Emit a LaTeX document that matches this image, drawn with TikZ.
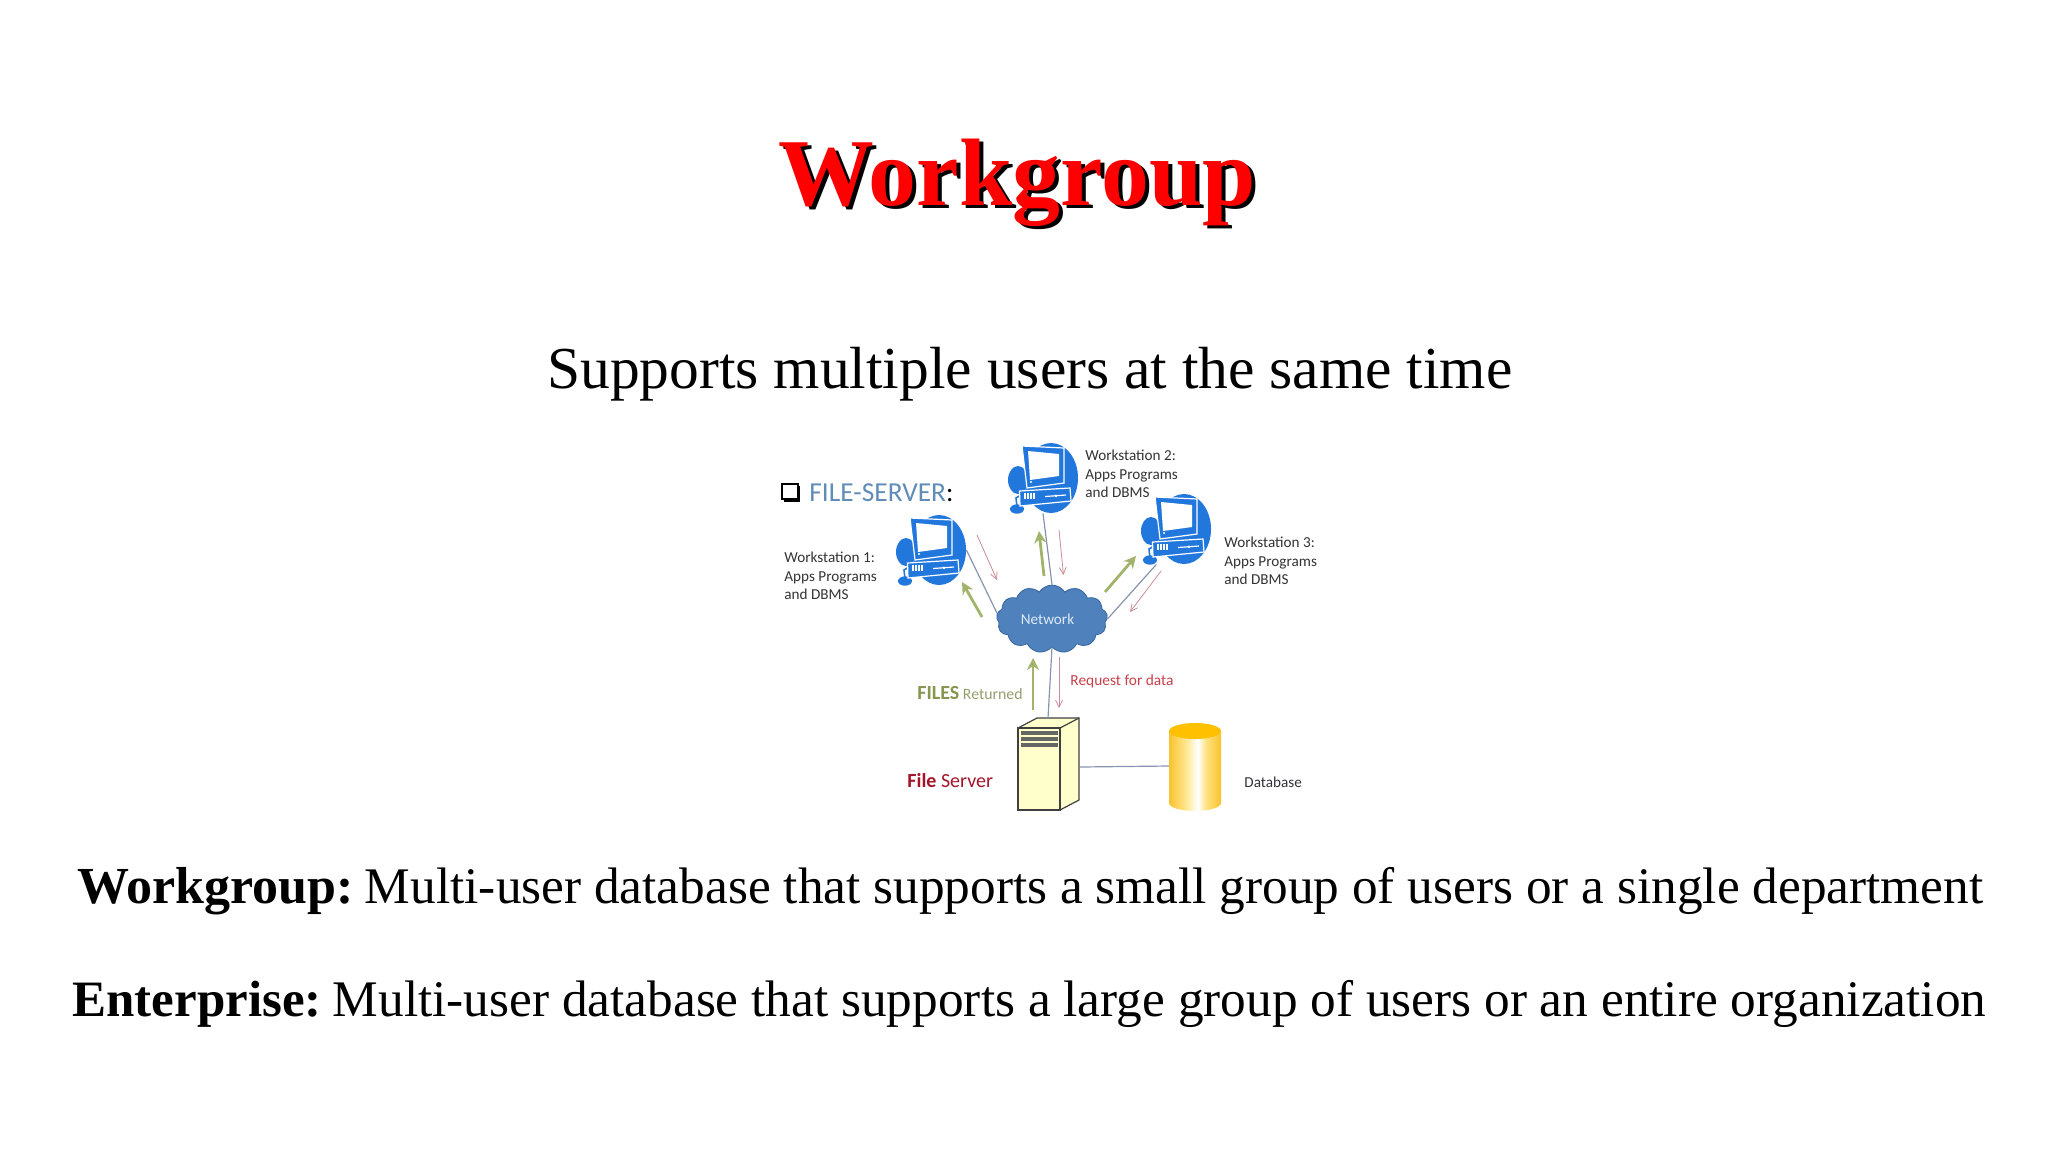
\documentclass[tikz,border=0pt]{standalone}
\usepackage{fontspec}
\setmainfont{Liberation Serif}
\newfontfamily\labelfont{Carlito}
\usetikzlibrary{arrows.meta,positioning,shapes.symbols}
\definecolor{iconblue}{HTML}{2277DD}
\definecolor{cloudblue}{HTML}{4F81BD}
\definecolor{cloudedge}{HTML}{35659E}
\definecolor{linkgray}{HTML}{8794AE}
\definecolor{returngreen}{HTML}{A2B46C}
\definecolor{requestred}{HTML}{CC8C96}
\definecolor{serverbody}{HTML}{FFFFCC}
\definecolor{dbgold}{HTML}{F9C22E}
\definecolor{dblight}{HTML}{FFE487}
\definecolor{dbtop}{HTML}{FFC000}
\pgfdeclarehorizontalshading{dbshade}{100bp}{color(0bp)=(dbgold); color(25bp)=(dbgold);
  color(40bp)=(dblight); color(53bp)=(white); color(60bp)=(dblight); color(75bp)=(dbgold); color(100bp)=(dbgold)}
\tikzset{
  bodytext/.style={anchor=base west,inner sep=0pt,font=\fontsize{#1}{#1}\selectfont},
  smalltext/.style={anchor=west,inner sep=0pt,align=left,text=black!80,
    font=\labelfont\fontsize{7.6}{9.25}\selectfont},
  link/.style={linkgray,semithick},
  filearrow/.style={returngreen,line width=1.4pt,-{Stealth[length=6pt,width=6pt]}},
  askarrow/.style={requestred,line width=0.4pt,-{Straight Barb[length=3.5pt,width=3.5pt]}},
  iconbox/.style={inner sep=0pt,minimum width=35pt,minimum height=35pt},
  workstation/.pic={
    % origin is the middle of the icon
    \begin{scope}[shift={(-35,-35)}]
      \fill[iconblue] (43,35) ellipse [x radius=27,y radius=35];
      \fill[iconblue] (10,37) ellipse [x radius=10,y radius=14];
      \fill[iconblue] (9,66) ellipse [x radius=7,y radius=4.7];
      \draw[iconblue,thick] (9,64) -- (8,55) -- (13,52);
      \draw[white,fill=iconblue,line width=0.6pt] (14,3) -- (56,5) -- (56,40) -- (19,45) -- cycle;
      \fill[white] (20,8) -- (51,11) -- (51,33) -- (22,37) -- cycle;
      \fill[white] (23,39) circle (1.2);
      \draw[white,fill=iconblue,line width=0.6pt] (11.5,48) -- (62,45) -- (63,58) -- (12,63) -- cycle;
      \foreach \X in {17,20,23,26} \draw[white,line width=0.7pt] (\X,50) -- (\X,56);
      \draw[white,line width=0.6pt] (37,53.5) -- (58,52);
      \fill[white] (48,52.8) circle (1.5);
    \end{scope}
  }
}
\begin{document}
\begin{tikzpicture}[x=0.5pt,y=-0.5pt]
  \useasboundingbox (0,0) rectangle (2048,1152);
  % heading
  \node[bodytext=47.9,font=\fontsize{47.9}{47.9}\selectfont\bfseries] (titleshadow) at (782,208) {Workgroup};
  \node[bodytext=47.9,font=\fontsize{47.9}{47.9}\selectfont\bfseries,text={rgb,255:red,255;green,0;blue,0}] (title) at (778,205) {Workgroup};
  \node[bodytext=29.75] (subtitle) at (547,388) {Supports multiple users at the same time};
  \node[bodytext=25.65] (workgroup) at (77,903) {{\fontsize{26}{26}\selectfont\textbf{Workgroup:}}\kern-3pt{} Multi-user database that supports a small group of users or a single department};
  \node[bodytext=25.65] (enterprise) at (72,1016) {{\fontsize{25.5}{26}\selectfont\textbf{Enterprise:}}\kern-3pt{} Multi-user database that supports a large group of users or an entire organization};
  % heading of the figure
  \draw[line width=0.9pt,fill=white] (782,484) rectangle (798,499);
  \draw[line width=1.2pt] (799,486) -- (799,501) -- (784,501);
  \node[anchor=west,inner sep=0pt,font=\labelfont\fontsize{13.7}{13.7}\selectfont] (fileserver) at (809,493) {\textcolor[HTML]{5F8DB8}{FILE-SERVER}:};
  % workstations
  \foreach \N/\X/\Y in {ws1/931/550,ws2/1043/478,ws3/1176/529}{
    \node[iconbox] (\N) at (\X,\Y) {};
    \pic at (\X,\Y) {workstation};
  }
  \foreach \N/\X/\Y/\L in {lab1/784/576/1,lab2/1085/474/2,lab3/1224/561/3}
    \node[smalltext] (\N) at (\X,\Y) {Workstation \L:\\Apps Programs\\and DBMS};
  % network
  \node[cloud,cloud puffs=13,cloud puff arc=115,aspect=1.6,inner sep=0pt,minimum width=55.5pt,minimum height=34pt,
    draw=cloudedge,fill=cloudblue,text={rgb,255:red,222;green,234;blue,246},font=\labelfont\fontsize{7.6}{7.6}\selectfont] (network) at (1052,619) {Network\kern4.5pt};
  % server and database
  \fill[serverbody,draw=black!75,line width=0.6pt] (1018,728) -- (1037,718) -- (1079,718) -- (1079,800) -- (1060,810) -- (1018,810) -- cycle;
  \node[draw=black!75,line width=0.6pt,fill=serverbody,inner sep=0pt,minimum width=21pt,minimum height=41pt] (server) at (1039,769) {};
  \draw[black!75,line width=0.6pt] (1060,728) -- (1079,718);
  \foreach \Y in {731.5,737.5,743.5}
    \draw[fill=black!40,black!60,line width=0.4pt] (1021,\Y) rectangle (1057,\Y+3);
  \coordinate (servertop) at (1048,718);
  \coordinate (serverside) at (1080,767);
  \shade[shading=dbshade]
    (1169,731) -- (1169,803) arc [start angle=180,end angle=0,x radius=26,y radius=8] -- (1221,731) -- cycle;
  \fill[dbtop] (1195,731) ellipse [x radius=26,y radius=8];
  \coordinate (dbside) at (1169,766);
  \node[inner sep=0pt,minimum width=26pt,minimum height=44pt] (db) at (1195,767) {};
  % labels of the lower part
  \node[smalltext,text={rgb,255:red,50;green,50;blue,60}] (dblabel) at (1244,782) {Database};
  \node[anchor=west,inner sep=0pt,font=\labelfont\fontsize{10}{10}\selectfont] (serverlabel) at (907,781) {\textcolor[HTML]{A3142A}{\textbf{File} Server}};
  \node[anchor=west,inner sep=0pt,font=\labelfont\fontsize{7.7}{7.7}\selectfont,text={rgb,255:red,200;green,64;blue,74}] (requestlabel) at (1070,681) {Request for data};
  \node[anchor=base west,inner sep=0pt,font=\labelfont\fontsize{7.9}{7.9}\selectfont,text={rgb,255:red,145;green,160;blue,110}] (fileslabel) at (917,699) {\textcolor[HTML]{869650}{\fontsize{10}{10}\selectfont\textbf{FILES}} Returned};
  % links
  \draw[link] (ws1.east) -- (network.174);
  \draw[link] (ws2.south) -- (network.north);
  \draw[link] (ws3.241) -- (network.east);
  \draw[link] (network.south) -- (servertop);
  \draw[link] (serverside) -- (dbside);
  % arrows beside the links
  \foreach \N/\X/\Y in {fa/982/617,fb/962/582,fc/1044/576,fd/1039/531,fe/1105/592,ff/1136/556,fg/1033/710,fh/1033/658,
    ra/977/535,rb/997/580,rc/1059/530,rd/1063.5/575,re/1161/571,rf/1130/612,rg/1059/657,rh/1059/708}
    \coordinate (\N) at (\X,\Y);
  \foreach \A/\B in {fa/fb,fc/fd,fe/ff,fg/fh} \draw[filearrow] (\A) -- (\B);
  \foreach \A/\B in {ra/rb,rc/rd,re/rf,rg/rh} \draw[askarrow] (\A) -- (\B);
\end{tikzpicture}
\end{document}
